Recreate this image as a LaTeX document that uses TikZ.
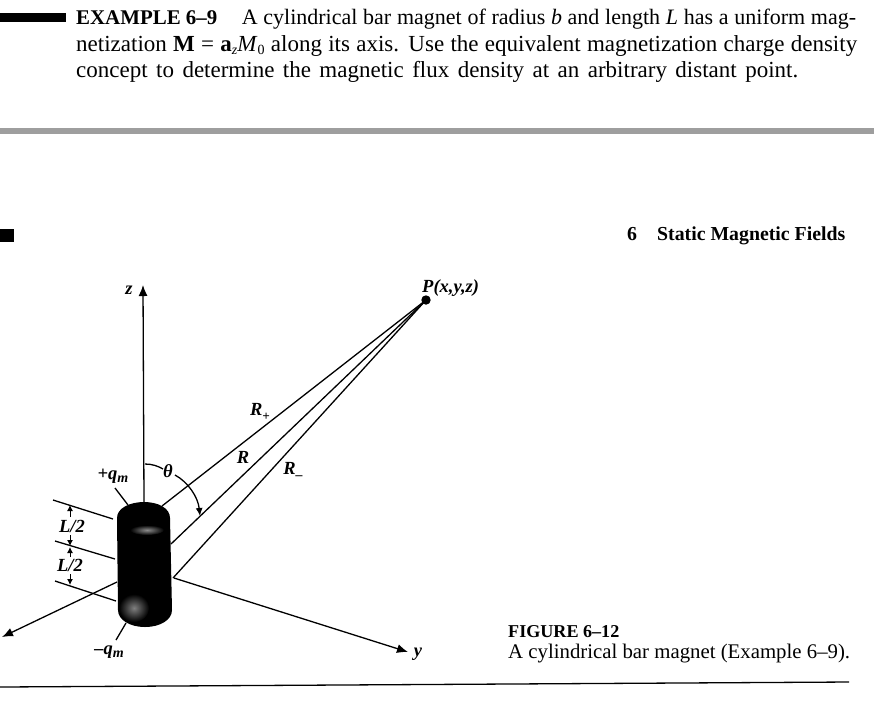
\documentclass[tikz,border=0pt]{standalone}
\usepackage{fontspec}
\setmainfont{Liberation Serif}
\usetikzlibrary{arrows.meta}
\tikzset{
  ln/.style={line width=1.3pt,black},
  arr/.style={ln,-{Latex[length=11pt,width=9pt]}},
  small arr/.style={line width=1pt,-{Latex[length=6pt,width=6pt]}},
  bodytext/.style={inner sep=0pt,anchor=base west,font=\fontsize{23}{26}\selectfont},
  lab/.style={inner sep=0pt,font=\fontsize{18.5}{22}\selectfont\bfseries\itshape},
  captext/.style={inner sep=0pt,anchor=base west,font=\fontsize{20.8}{24}\selectfont},
}
\begin{document}
\begin{tikzpicture}[x=1pt,y=-1pt]
\useasboundingbox (0,0) rectangle (874,716);
\fill[white] (0,0) rectangle (874,716);
% header
\fill (0,13) rectangle (66,22);
\node[bodytext] (t1) at (76,24) {\makebox[165.6pt][l]{\fontsize{20.9}{24}\selectfont\textbf{EXAMPLE 6–9}}\makebox[614.4pt][s]{\fontsize{22}{26}\selectfont A cylindrical bar magnet of radius \textit{b} and length \textit{L} has a uniform mag-}};
\node[bodytext] (t2) at (76,51) {\makebox[781pt][s]{netization \textbf{M} = \textbf{a}\raisebox{-3pt}{\fontsize{14}{14}\selectfont\textit{z}}\textit{M}\raisebox{-3pt}{\fontsize{14}{14}\selectfont 0} along its axis. Use the equivalent magnetization charge density}};
\node[bodytext] (t3) at (76,77.5) {\makebox[722pt][s]{concept to determine the magnetic flux density at an arbitrary distant point.}};
\fill[black!38] (0,128) rectangle (874,134);
% running head
\fill (0,229) rectangle (14,242);
\node[captext,font=\fontsize{19.8}{23}\selectfont\bfseries] (head) at (627,240) {\makebox[30pt][l]{6}Static Magnetic Fields};
% figure
\coordinate (P) at (426,300);
\coordinate (ztop) at (144,502);
\coordinate (zend) at (143,285);
\coordinate (rp) at (162,506);
\coordinate (rc) at (171,544);
\coordinate (rm) at (173,578);
\coordinate (yst) at (174,578);
\coordinate (yend) at (408,652);
\coordinate (xst) at (117,582);
\coordinate (xend) at (2,637);
\draw[arr] (ztop) -- (zend);
\draw[ln] (rp) -- (P);
\draw[ln] (rc) -- (P);
\draw[ln] (rm) -- (P);
\draw[arr] (yst) -- (yend);
\draw[arr] (xst) -- (xend);
\fill (P) circle (4.7);
% dimension lines
\coordinate (d1a) at (53,500); \coordinate (d1b) at (113,519);
\coordinate (d2a) at (55,541); \coordinate (d2b) at (115,559);
\coordinate (d3a) at (55,581); \coordinate (d3b) at (116,601);
\draw[ln] (d1a) -- (d1b);
\draw[ln] (d2a) -- (d2b);
\draw[ln] (d3a) -- (d3b);
\coordinate (a0) at (70,517); \coordinate (a1) at (70,505);
\coordinate (b0) at (70,535); \coordinate (b1) at (70,546);
\coordinate (c0) at (70,557); \coordinate (c1) at (70,547);
\coordinate (e0) at (70,574); \coordinate (e1) at (70,585);
\draw[small arr] (a0) -- (a1);
\draw[small arr] (b0) -- (b1);
\draw[small arr] (c0) -- (c1);
\draw[small arr] (e0) -- (e1);
% cylinder
\fill[black] (117,518) .. controls (117,508) and (130,502) .. (144,502) .. controls (158,502) and (170,508) .. (170,518) -- (172,610) .. controls (172,620) and (160,627) .. (145,627) .. controls (130,627) and (118,620) .. (118,610) -- cycle;
\shade[inner color=black!50,outer color=black] (134,608) ellipse (15 and 14);
\shade[inner color=black!45,outer color=black] (147,530) ellipse (17 and 5);
% leaders
\coordinate (q1a) at (128,505); \coordinate (q1b) at (115,488);
\coordinate (q2a) at (126,623); \coordinate (q2b) at (116,640);
\draw[ln] (q1a) -- (q1b);
\draw[ln] (q2a) -- (q2b);
% theta arc
\draw[ln] (145,464) .. controls (152,464) and (158,466) .. (163,469);
\draw[ln,-{Latex[length=8pt,width=7pt]}] (175,475) .. controls (188,482) and (198,497) .. (200,516);
% labels
\node[lab] (z) at (129,290) {z};
\node[lab,anchor=base west] (Pl) at (422,292) {P(x,y,z)};
\node[lab] (Rp) at (260,412) {R\raisebox{-5pt}{\fontsize{13}{13}\selectfont +}};
\node[lab] (Rc) at (243,457) {R};
\node[lab] (Rm) at (293,471) {R\raisebox{-5pt}{\fontsize{14}{14}\selectfont –}};
\node[lab] (th) at (168,471) {θ};
\node[lab] (qp) at (113,476) {+q\raisebox{-3pt}{\fontsize{14}{14}\selectfont m}};
\node[lab] (qm) at (109,652) {–q\raisebox{-3pt}{\fontsize{14}{14}\selectfont m}};
\node[lab] (L1) at (72,526) {L/2};
\node[lab] (L2) at (70,565) {L/2};
\node[lab] (y) at (418,654) {y};
\node[captext,font=\fontsize{18.1}{21}\selectfont\bfseries] (fig) at (508,637) {FIGURE 6–12};
\node[captext] (fc) at (508,658) {A cylindrical bar magnet (Example 6–9).};
\coordinate (ra) at (0,687); \coordinate (rb) at (849,682);
\draw[line width=1.3pt] (ra) -- (rb);
\end{tikzpicture}
\end{document}
